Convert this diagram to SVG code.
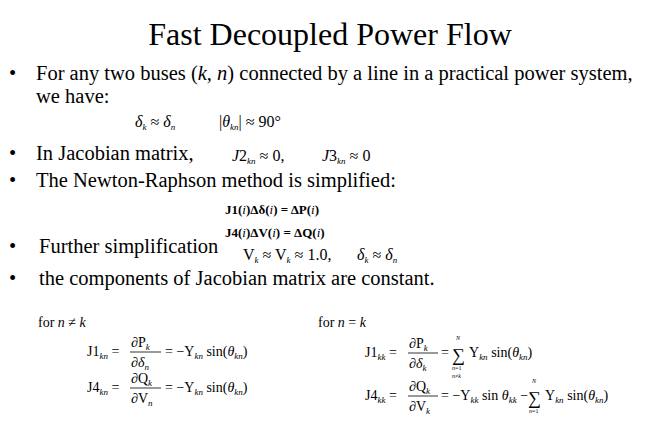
<svg xmlns="http://www.w3.org/2000/svg" width="654" height="422" viewBox="0 0 654 422" font-family="'Liberation Serif','Times New Roman',serif">
<style>
text{font-family:"Liberation Serif","Times New Roman",serif;fill:#000}
.b{font-size:20.5px}
.m{font-size:16px}
.s{font-size:14px}
.t{font-size:9px}
.u{font-size:6px}
.bd{font-size:13px;font-weight:bold}
.i{font-style:italic}
line{stroke:#000;stroke-width:0.8}
</style>
<rect width="654" height="422" fill="#fff"/>
<g id="title"><text x="330" y="45" font-size="32" text-anchor="middle">Fast Decoupled Power Flow</text></g>
<g id="bullets">
<text class="b" x="9" y="80">•</text>
<text class="b" x="36" y="80">For any two buses (<tspan class="i">k</tspan>, <tspan class="i">n</tspan>) connected by a line in a practical power system,</text>
<text class="b" x="36" y="103">we have:</text>
<text class="b" x="9" y="160">•</text>
<text class="b" x="36" y="160">In Jacobian matrix,</text>
<text class="b" x="9" y="187">•</text>
<text class="b" x="36" y="187">The Newton-Raphson method is simplified:</text>
<text class="b" x="9" y="253">•</text>
<text class="b" x="39" y="253">Further simplification</text>
<text class="b" x="9" y="285">•</text>
<text class="b" x="39" y="285">the components of Jacobian matrix are constant.</text>
</g>
<g id="eq1">
<text class="m" x="135" y="127"><tspan class="i">δ</tspan><tspan class="t i" dy="3">k</tspan><tspan dy="-3"> ≈ </tspan><tspan class="i">δ</tspan><tspan class="t i" dy="3">n</tspan></text>
<text class="m" x="219" y="127">|<tspan class="i">θ</tspan><tspan class="t i" dy="3">kn</tspan><tspan dy="-3">| ≈ 90°</tspan></text>
<text class="m" x="232" y="161"><tspan class="i">J</tspan>2<tspan class="t i" dy="3">kn</tspan><tspan dy="-3"> ≈ 0,</tspan></text>
<text class="m" x="322" y="161"><tspan class="i">J</tspan>3<tspan class="t i" dy="3">kn</tspan><tspan dy="-3"> ≈ 0</tspan></text>
<text class="bd" x="225" y="214">J1(<tspan class="i" font-weight="normal">i</tspan>)Δδ(<tspan class="i" font-weight="normal">i</tspan>) = ΔP(<tspan class="i" font-weight="normal">i</tspan>)</text>
<text class="bd" x="225" y="237">J4(<tspan class="i" font-weight="normal">i</tspan>)ΔV(<tspan class="i" font-weight="normal">i</tspan>) = ΔQ(<tspan class="i" font-weight="normal">i</tspan>)</text>
<text class="m" x="243" y="260">V<tspan class="t i" dy="3">k</tspan><tspan dy="-3"> ≈ V</tspan><tspan class="t i" dy="3">k</tspan><tspan dy="-3"> ≈ 1.0,</tspan></text>
<text class="m" x="357" y="260"><tspan class="i">δ</tspan><tspan class="t i" dy="3">k</tspan><tspan dy="-3"> ≈ </tspan><tspan class="i">δ</tspan><tspan class="t i" dy="3">n</tspan></text>
</g>
<g id="left">
<text class="s" x="38" y="327">for <tspan class="i">n</tspan> ≠ <tspan class="i">k</tspan></text>
<text class="s" x="87" y="356">J1<tspan class="t i" dy="3">kn</tspan><tspan dy="-3"> =</tspan></text>
<text class="s" x="131" y="347">∂P<tspan class="t i" dy="3">k</tspan></text>
<line x1="130" y1="352" x2="161" y2="352"/>
<text class="s" x="131" y="367">∂<tspan class="i">δ</tspan><tspan class="t i" dy="3">n</tspan></text>
<text class="s" x="165" y="356">= −Y<tspan class="t i" dy="3">kn</tspan><tspan dy="-3"> sin(</tspan><tspan class="i">θ</tspan><tspan class="t i" dy="3">kn</tspan><tspan dy="-3">)</tspan></text>
<text class="s" x="87" y="392">J4<tspan class="t i" dy="3">kn</tspan><tspan dy="-3"> =</tspan></text>
<text class="s" x="131" y="383">∂Q<tspan class="t i" dy="3">k</tspan></text>
<line x1="130" y1="388" x2="161" y2="388"/>
<text class="s" x="131" y="403">∂V<tspan class="t i" dy="3">n</tspan></text>
<text class="s" x="165" y="392">= −Y<tspan class="t i" dy="3">kn</tspan><tspan dy="-3"> sin(</tspan><tspan class="i">θ</tspan><tspan class="t i" dy="3">kn</tspan><tspan dy="-3">)</tspan></text>
</g>
<g id="right">
<text class="s" x="318" y="327">for <tspan class="i">n</tspan> = <tspan class="i">k</tspan></text>
<text class="s" x="365" y="357">J1<tspan class="t i" dy="3">kk</tspan><tspan dy="-3"> =</tspan></text>
<text class="s" x="409" y="348">∂P<tspan class="t i" dy="3">k</tspan></text>
<line x1="408" y1="353" x2="438" y2="353"/>
<text class="s" x="409" y="368">∂<tspan class="i">δ</tspan><tspan class="t i" dy="3">k</tspan></text>
<text class="s" x="441" y="357">=</text>
<text class="u i" x="456" y="340">N</text>
<text x="452" y="361" font-size="18">∑</text>
<text class="u" x="452" y="370"><tspan class="i">n</tspan>=1</text>
<text class="u" x="452" y="378"><tspan class="i">n</tspan>≠<tspan class="i">k</tspan></text>
<text class="s" x="469" y="357">Y<tspan class="t i" dy="3">kn</tspan><tspan dy="-3"> sin(</tspan><tspan class="i">θ</tspan><tspan class="t i" dy="3">kn</tspan><tspan dy="-3">)</tspan></text>
<text class="s" x="365" y="400">J4<tspan class="t i" dy="3">kk</tspan><tspan dy="-3"> =</tspan></text>
<text class="s" x="409" y="391">∂Q<tspan class="t i" dy="3">k</tspan></text>
<line x1="408" y1="396" x2="438" y2="396"/>
<text class="s" x="409" y="411">∂V<tspan class="t i" dy="3">k</tspan></text>
<text class="s" x="441" y="400">= −Y<tspan class="t i" dy="3">kk</tspan><tspan dy="-3"> sin </tspan><tspan class="i">θ</tspan><tspan class="t i" dy="3">kk</tspan><tspan dy="-3"> −</tspan></text>
<text class="u i" x="532" y="383">N</text>
<text x="528" y="404" font-size="18">∑</text>
<text class="u" x="529" y="413"><tspan class="i">n</tspan>=1</text>
<text class="s" x="545" y="400">Y<tspan class="t i" dy="3">kn</tspan><tspan dy="-3"> sin(</tspan><tspan class="i">θ</tspan><tspan class="t i" dy="3">kn</tspan><tspan dy="-3">)</tspan></text>
</g>
</svg>
